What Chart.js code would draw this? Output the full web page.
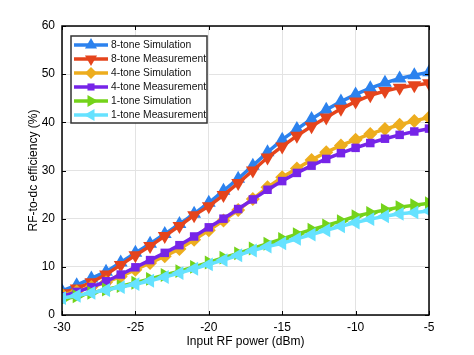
<!DOCTYPE html>
<html>
<head>
<meta charset="utf-8">
<script src="https://cdn.jsdelivr.net/npm/chart.js@4"></script>
<style>
html,body{margin:0;padding:0;background:#fff;}
#wrap{width:474px;height:355px;}
</style>
</head>
<body>
<div id="wrap"><canvas id="c" width="474" height="355"></canvas></div>
<script>
const inputPower = [-30,-29,-28,-27,-26,-25,-24,-23,-22,-21,-20,-19,-18,-17,-16,-15,-14,-13,-12,-11,-10,-9,-8,-7,-6,-5];
const sim8  = [5.0,6.2,7.6,9.0,10.9,12.9,14.8,16.8,18.9,21.0,23.3,25.8,28.3,31.0,33.8,36.4,38.6,40.7,42.6,44.3,45.8,47.1,48.2,49.1,49.8,50.4];
const meas8 = [4.5,5.5,6.8,8.4,10.4,12.4,14.3,16.4,18.5,20.7,22.6,24.9,27.4,30.0,32.7,35.0,37.2,39.2,41.0,42.8,44.3,45.6,46.5,47.2,47.7,48.1];
const sim4  = [4.2,4.9,5.8,6.8,8.0,9.4,10.8,12.2,13.7,15.6,17.6,19.6,21.8,24.1,26.5,28.6,30.4,32.2,33.8,35.2,36.4,37.6,38.6,39.5,40.3,41.0];
const meas4 = [3.9,4.8,5.8,7.0,8.4,9.9,11.4,12.9,14.5,16.3,18.2,20.0,22.0,24.0,26.0,27.8,29.5,31.0,32.4,33.6,34.7,35.7,36.6,37.4,38.1,38.7];
const sim1  = [3.2,3.9,4.6,5.3,6.0,6.7,7.5,8.3,9.1,10.0,10.9,11.9,12.8,13.8,14.8,15.8,16.8,17.7,18.6,19.5,20.5,21.2,21.8,22.4,22.8,23.2];
const meas1 = [3.5,4.0,4.6,5.2,5.8,6.4,7.1,7.9,8.7,9.6,10.5,11.4,12.4,13.4,14.2,14.9,15.8,16.7,17.6,18.4,19.2,19.9,20.5,21.0,21.3,21.6];
const seriesNames = ['8-tone Simulation','8-tone Measurement','4-tone Simulation','4-tone Measurement','1-tone Simulation','1-tone Measurement'];
const xTicks = [-30,-25,-20,-15,-10,-5];
const yTicks = [0,10,20,30,40,50,60];

const seriesValues = [sim8, meas8, sim4, meas4, sim1, meas1];
const colors = ['#2C82EE','#E5441C','#EDAD1E','#7624E8','#74D31A','#66E2FF'];
const shapes = ['triangle','triangle','rectRot','rect','triangle','triangle'];
const rots = [0,180,0,0,90,-90];
const radii = [8,8,7,6,8,8];

const FONT = '"Liberation Sans", Arial, Helvetica, sans-serif';

const datasets = seriesValues.map((vals, i) => ({
  label: seriesNames[i],
  data: inputPower.map((x, j) => ({x, y: vals[j]})),
  borderColor: colors[i],
  backgroundColor: colors[i],
  borderWidth: 3.5,
  pointStyle: shapes[i],
  rotation: rots[i],
  pointRadius: radii[i],
  pointBorderWidth: 0,
  pointBackgroundColor: colors[i],
  order: 5 - i,
  tension: 0
}));

const boxPlugin = {
  id: 'box',
  afterDraw(chart) {
    const {ctx, chartArea: a, scales} = chart;
    ctx.save();
    ctx.strokeStyle = '#000';
    ctx.lineWidth = 1.5;
    ctx.strokeRect(a.left, a.top, a.right - a.left, a.bottom - a.top);
    ctx.lineWidth = 1;
    const tl = 4;
    ctx.beginPath();
    xTicks.forEach(v => {
      const px = Math.round(scales.x.getPixelForValue(v)) + 0.5;
      ctx.moveTo(px, a.bottom); ctx.lineTo(px, a.bottom - tl);
      ctx.moveTo(px, a.top); ctx.lineTo(px, a.top + tl);
    });
    yTicks.forEach(v => {
      const py = Math.round(scales.y.getPixelForValue(v)) + 0.5;
      ctx.moveTo(a.left, py); ctx.lineTo(a.left + tl, py);
      ctx.moveTo(a.right, py); ctx.lineTo(a.right - tl, py);
    });
    ctx.stroke();

    // legend
    const lx = 71, ly = 36, lw = 136, lh = 87;
    ctx.fillStyle = '#fff';
    ctx.fillRect(lx, ly, lw, lh);
    ctx.strokeStyle = '#333';
    ctx.lineWidth = 1.5;
    ctx.strokeRect(lx, ly, lw, lh);
    ctx.font = '10.3px ' + FONT;
    ctx.textBaseline = 'middle';
    ctx.textAlign = 'left';
    chart.data.datasets.forEach((ds, i) => {
      const y = ly + 9 + i * 14;
      ctx.strokeStyle = ds.borderColor;
      ctx.lineWidth = 3.5;
      ctx.beginPath();
      ctx.moveTo(lx + 3, y); ctx.lineTo(lx + 37, y);
      ctx.stroke();
      ctx.fillStyle = ds.backgroundColor;
      ctx.strokeStyle = ds.backgroundColor;
      Chart.helpers.drawPoint(ctx, {pointStyle: ds.pointStyle, rotation: ds.rotation, radius: ds.pointRadius - 1, borderWidth: 0}, lx + 20, y);
      ctx.fillStyle = '#111';
      ctx.fillText(ds.label, lx + 40, y + 0.5);
    });
    ctx.restore();
  }
};

new Chart(document.getElementById('c'), {
  type: 'line',
  data: { datasets },
  options: {
    responsive: false,
    animation: false,
    devicePixelRatio: 1,
    layout: { padding: { top: 26, right: 45, left: 0, bottom: 0 } },
    plugins: { legend: { display: false }, tooltip: { enabled: false } },
    scales: {
      x: {
        type: 'linear', min: -30, max: -5,
        afterBuildTicks(s) { s.ticks = xTicks.map(v => ({value: v})); },
        afterFit(s) { s.height = 40; },
        grid: { color: '#e3e3e3', lineWidth: 1, drawTicks: false },
        border: { display: false },
        ticks: { color: '#000', font: { family: FONT, size: 12 }, padding: 5, maxRotation: 0 },
        title: { display: true, text: 'Input RF power (dBm)', color: '#000', font: { family: FONT, size: 12 }, padding: { top: 0, bottom: 6 } }
      },
      y: {
        type: 'linear', min: 0, max: 60,
        afterBuildTicks(s) { s.ticks = yTicks.map(v => ({value: v})); },
        afterFit(s) { s.width = 62; },
        grid: { color: '#e3e3e3', lineWidth: 1, drawTicks: false },
        border: { display: false },
        ticks: { color: '#000', font: { family: FONT, size: 12 }, padding: 7 },
        title: { display: true, text: 'RF-to-dc efficiency (%)', color: '#000', font: { family: FONT, size: 12 }, padding: { top: 26, bottom: 0 } }
      }
    }
  },
  plugins: [boxPlugin]
});
</script>
</body>
</html>
